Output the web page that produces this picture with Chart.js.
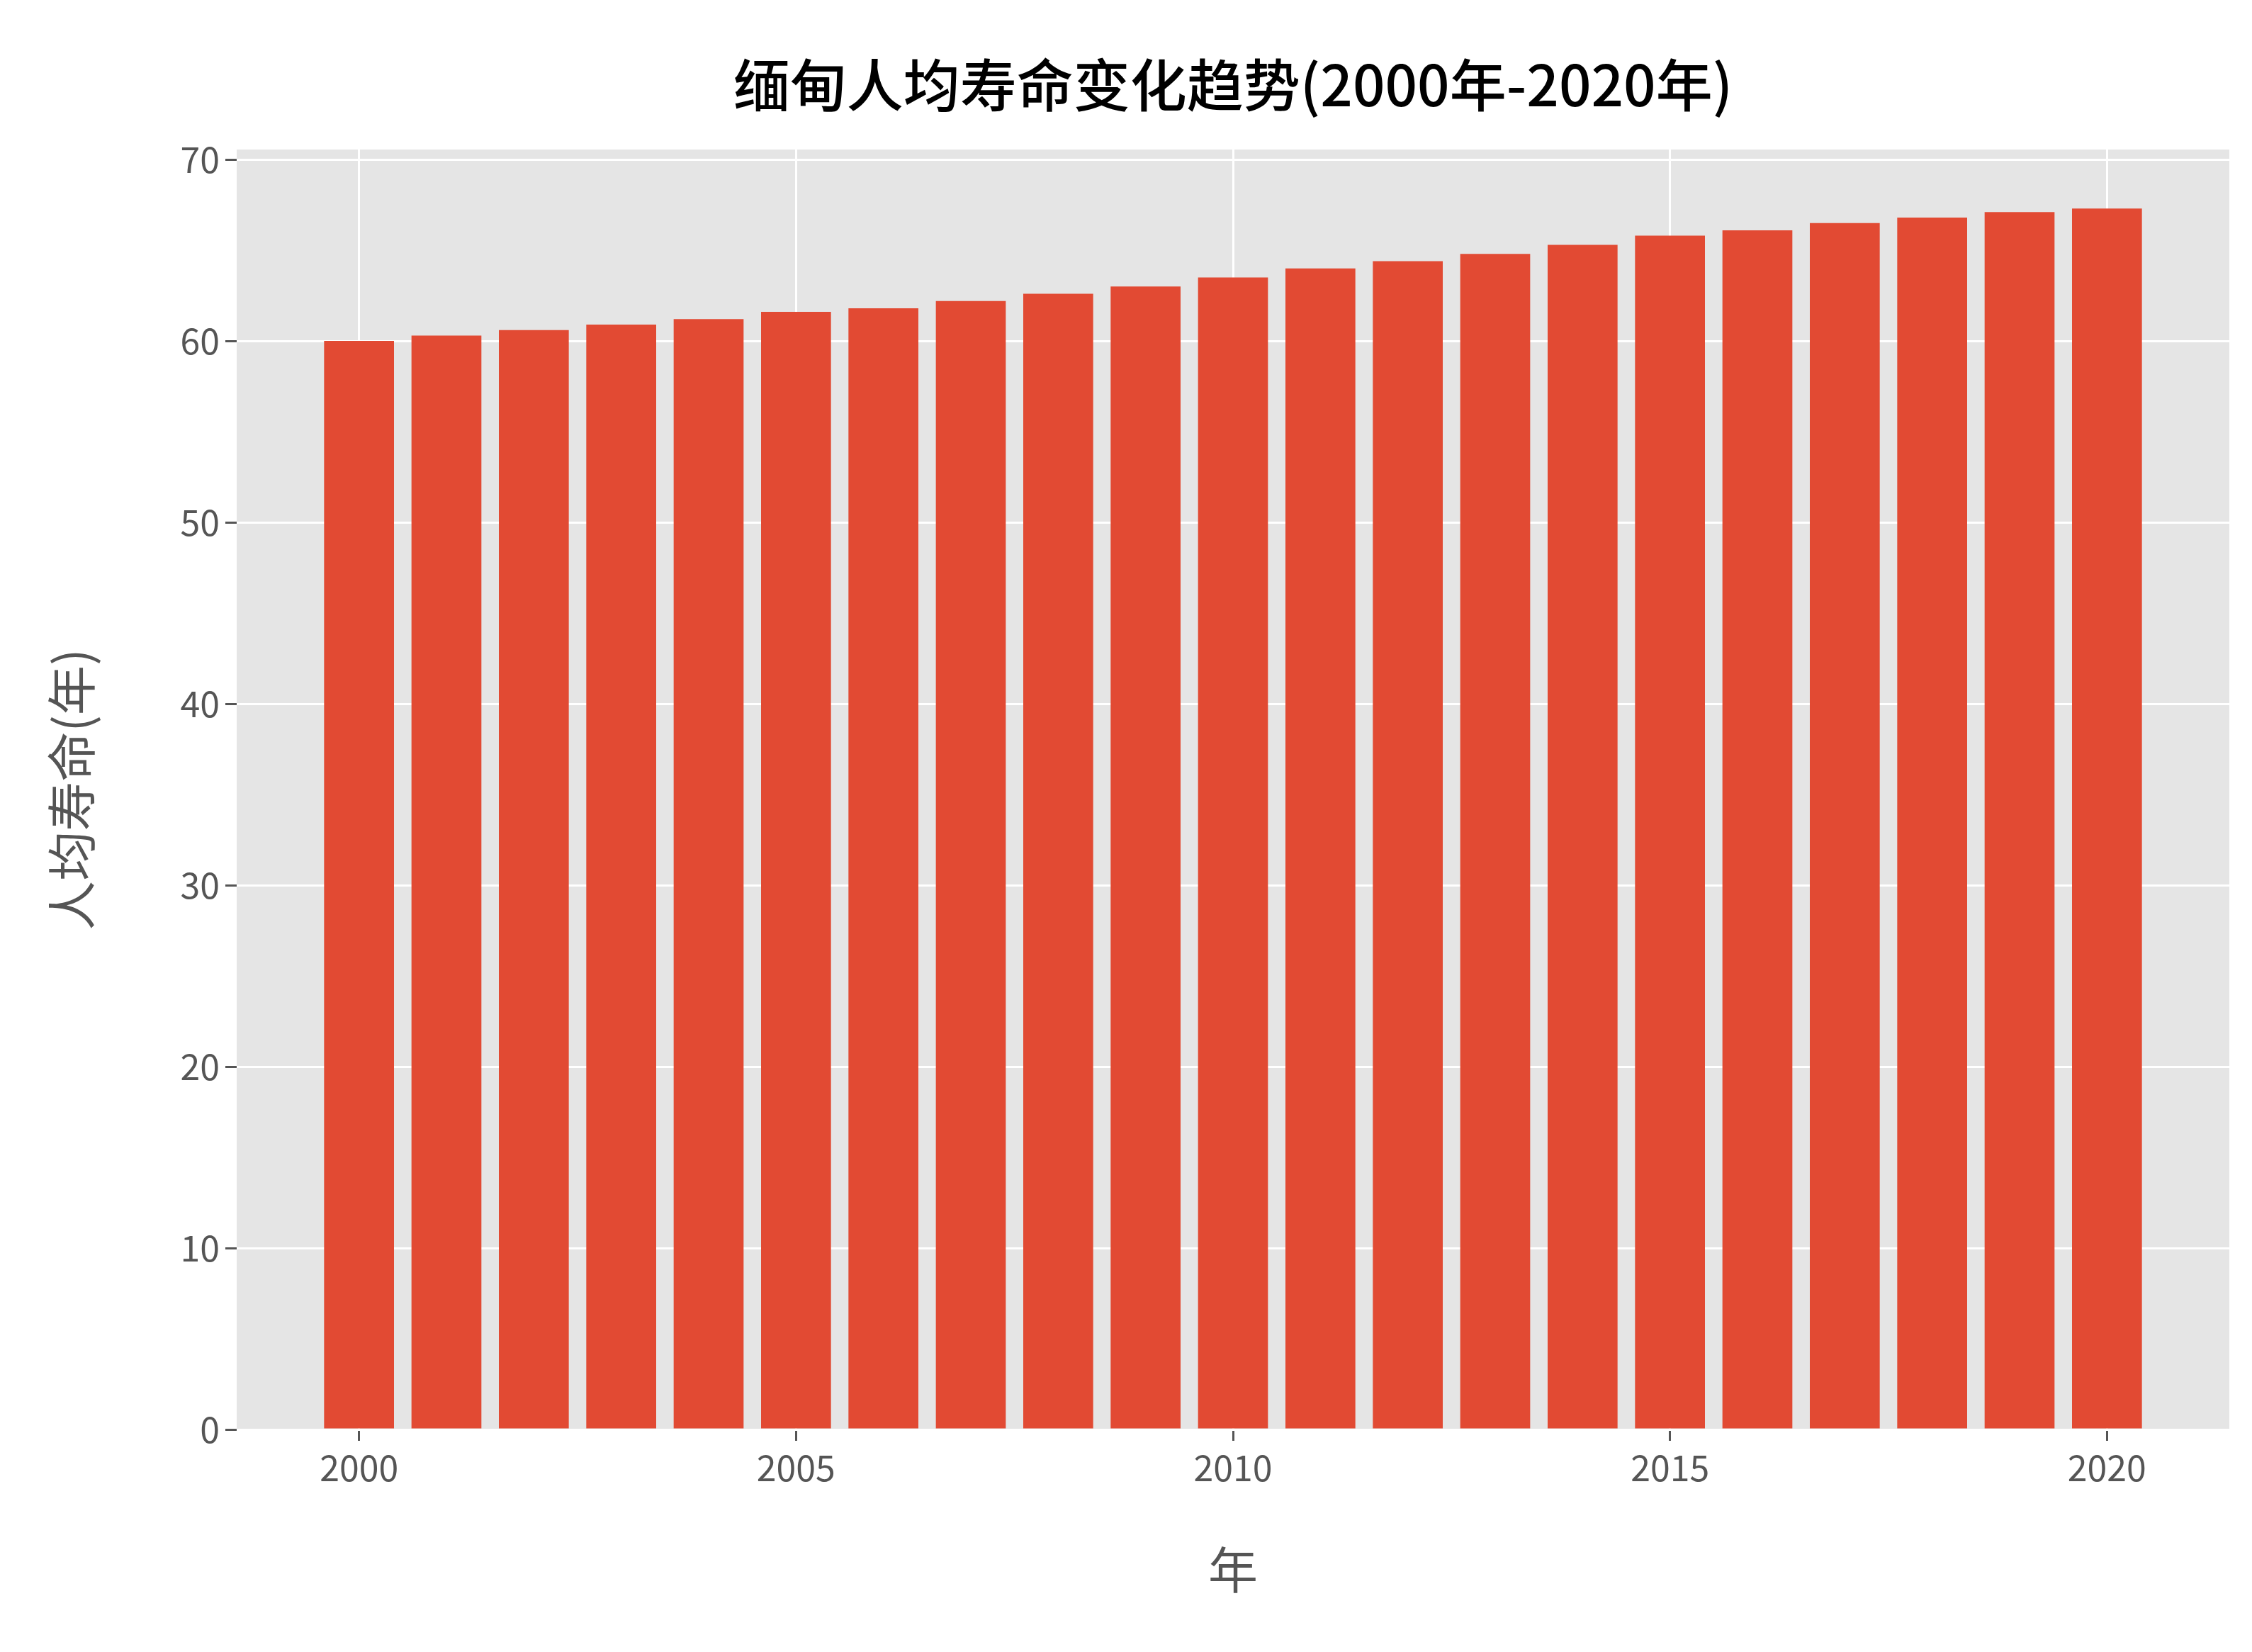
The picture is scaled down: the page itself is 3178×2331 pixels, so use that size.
<!DOCTYPE html>
<html>
<head>
<meta charset="utf-8">
<script src="https://cdn.jsdelivr.net/npm/chart.js@4/dist/chart.umd.min.js"></script>
<style>
html,body{margin:0;padding:0;background:#fff;}
#wrap{width:3178px;height:2331px;}
</style>
</head>
<body>
<div id="wrap"><canvas id="c"></canvas></div>
<script>
const years = [2000,2001,2002,2003,2004,2005,2006,2007,2008,2009,2010,2011,2012,2013,2014,2015,2016,2017,2018,2019,2020]
const lifeExpectancy = [60.0,60.3,60.6,60.9,61.2,61.6,61.8,62.2,62.6,63.0,63.5,64.0,64.4,64.8,65.3,65.8,66.1,66.5,66.8,67.1,67.3]
const xTicks = [2000,2005,2010,2015,2020]
const titleText = "缅甸人均寿命变化趋势(2000年-2020年)"
const FONT = "'Noto Sans CJK SC', 'DejaVu Sans', sans-serif"

const panel = {
    id: "panel",
    beforeDraw(chart) {
        const a = chart.chartArea, ctx = chart.ctx
        ctx.save()
        ctx.fillStyle = "#E5E5E5"
        ctx.fillRect(a.left, a.top, a.right - a.left, a.bottom - a.top)
        ctx.restore()
    },
    afterDraw(chart) {
        const a = chart.chartArea, ctx = chart.ctx
        ctx.save()
        ctx.fillStyle = "#000"
        ctx.font = "500 80px " + FONT
        ctx.textAlign = "center"
        ctx.textBaseline = "middle"
        ctx.fillText(titleText, (a.left + a.right) / 2, 120)
        ctx.restore()
    }
}

new Chart(document.getElementById("c"), {
    type: "bar",
    data: {
        datasets: [{
            data: years.map((y, i) => ({x: y, y: lifeExpectancy[i]})),
            backgroundColor: "#E24A33",
            categoryPercentage: 1,
            barPercentage: 0.8
        }]
    },
    options: {
        responsive: true,
        maintainAspectRatio: false,
        animation: false,
        devicePixelRatio: 1,
        layout: {padding: {top: 211, right: 32, left: 55, bottom: 70}},
        plugins: {legend: {display: false}, tooltip: {enabled: false}},
        scales: {
            x: {
                type: "linear",
                offset: false,
                min: 1998.6,
                max: 2021.4,
                afterBuildTicks: (s) => { s.ticks = xTicks.map(v => ({value: v})) },
                afterFit: (s) => { s.height = 244 },
                border: {display: false},
                grid: {offset: false, color: "#fff", lineWidth: 3, tickColor: "#555", tickLength: 16},
                ticks: {color: "#555", font: {family: FONT, size: 50}, padding: 8, callback: (v) => String(v)},
                title: {display: true, text: "年", color: "#555", font: {family: FONT, size: 70}, padding: {top: 0}}
            },
            y: {
                min: 0,
                max: 70.55,
                afterBuildTicks: (s) => { s.ticks = [0,10,20,30,40,50,60,70].map(v => ({value: v})) },
                afterFit: (s) => { s.width = 279 },
                border: {display: false},
                grid: {color: "#fff", lineWidth: 3, tickColor: "#555", tickLength: 16},
                ticks: {color: "#555", font: {family: FONT, size: 50}, padding: 8},
                title: {display: true, text: "人均寿命(年)", color: "#555", font: {family: FONT, size: 70}, padding: {bottom: 0}}
            }
        }
    },
    plugins: [panel]
})
</script>
</body>
</html>
